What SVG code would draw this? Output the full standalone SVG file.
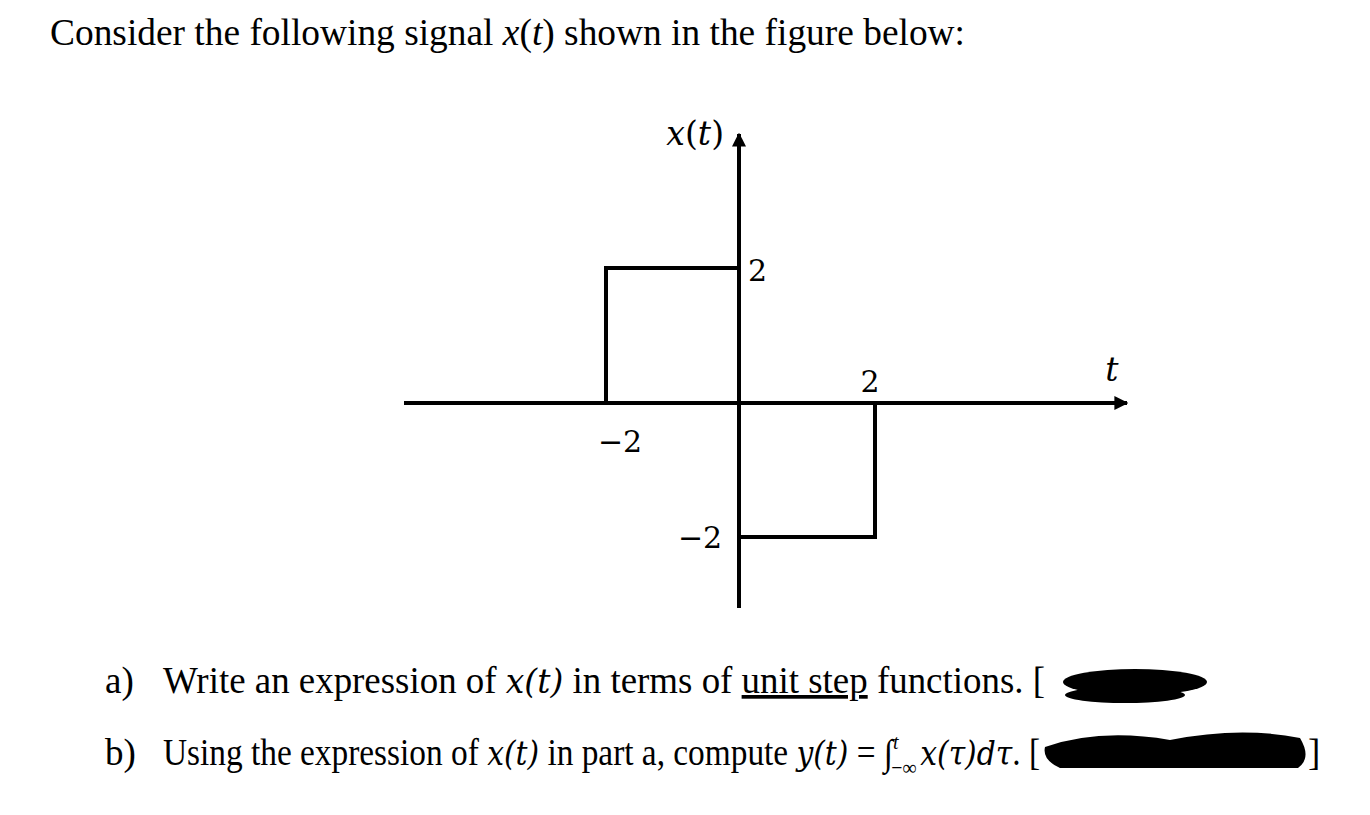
<svg xmlns="http://www.w3.org/2000/svg" width="1370" height="815" viewBox="0 0 1370 815">
<style>
.t{font-family:"Liberation Serif",serif;font-size:37px;fill:#000}
.m{font-family:"DejaVu Serif","Liberation Serif",serif;font-size:30px;fill:#000}
.mi{font-family:"DejaVu Serif","Liberation Serif",serif;font-style:italic;font-size:33px;fill:#000}
.ln{stroke:#000;stroke-width:4;fill:none}
</style>
<defs>
<marker id="a2" viewBox="0 0 10 10" refX="9" refY="5" markerWidth="14" markerHeight="14" orient="auto" markerUnits="userSpaceOnUse"><path d="M0,0L10,5L0,10z" fill="#000"/></marker></defs>
<rect width="1370" height="815" fill="#fff"/>
<text class="t" x="50" y="45" textLength="915" lengthAdjust="spacingAndGlyphs">Consider the following signal <tspan font-style="italic">x</tspan>(<tspan font-style="italic">t</tspan>) shown in the figure below:</text>
<g id="axes">
<line class="ln" x1="739" y1="608" x2="739" y2="134" marker-end="url(#a2)"/>
<line class="ln" x1="404" y1="403" x2="1127" y2="403" marker-end="url(#a2)"/>
</g>
<g id="signal">
<polyline class="ln" points="606,403 606,268 739,268"/>
<polyline class="ln" points="739,537 875,537 875,403"/>
</g>
<g id="labels">
<text class="mi" x="724" y="145" text-anchor="end">x<tspan font-style="normal">(</tspan>t<tspan font-style="normal">)</tspan></text>
<text class="m" x="748" y="281">2</text>
<text class="m" x="870" y="392" text-anchor="middle">2</text>
<text class="mi" x="1112" y="381" text-anchor="middle">t</text>
<text class="m" x="620" y="452" text-anchor="middle">−2</text>
<text class="m" x="700" y="548" text-anchor="middle">−2</text>
</g>
<text class="t" x="105" y="693">a)</text>
<text class="t" x="163" y="693" textLength="882" lengthAdjust="spacingAndGlyphs">Write an expression of <tspan class="mi">x(t)</tspan> in terms of <tspan text-decoration="underline">unit step</tspan> functions. [</text>
<text class="t" x="105" y="765">b)</text>
<text class="t" x="163" y="765" textLength="877" lengthAdjust="spacingAndGlyphs">Using the expression of <tspan class="mi">x(t)</tspan> in part a, compute <tspan class="mi">y(t)</tspan> = ∫<tspan font-size="22" dy="-16" font-style="italic">t</tspan><tspan font-size="22" dy="26" dx="-8">−∞</tspan><tspan dy="-10" dx="4" class="mi">x(τ)dτ</tspan>. [</text>
<g id="redact" fill="#000">
<ellipse cx="1135" cy="682" rx="72" ry="13"/>
<ellipse cx="1125" cy="695" rx="60" ry="8"/>
<path d="M1045,747 Q1100,728 1170,740 Q1240,726 1300,738 Q1312,758 1298,768 L1060,768 Q1042,760 1045,747z"/>
</g>
<text class="t" x="1308" y="765">]</text>
</svg>
